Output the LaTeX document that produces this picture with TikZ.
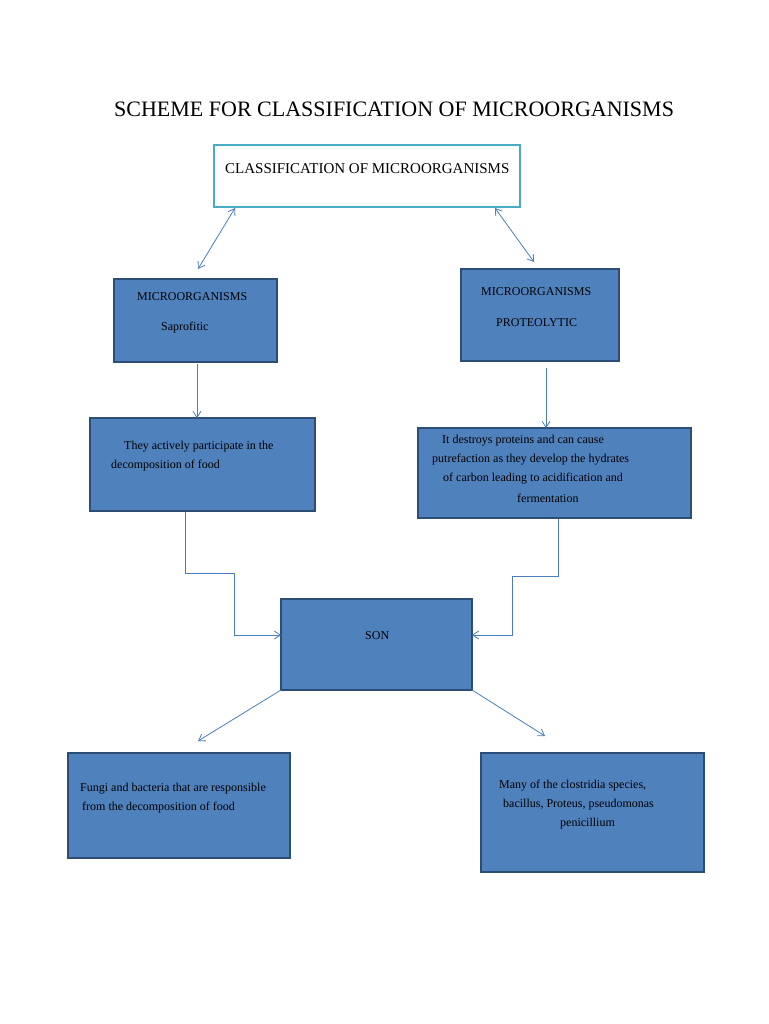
\documentclass[tikz,border=0pt]{standalone}
\usepackage{fontspec}
\setmainfont{Liberation Serif}
\usetikzlibrary{arrows.meta}
\definecolor{boxfill}{HTML}{4F81BD}
\definecolor{boxline}{HTML}{2C4D75}
\definecolor{cyanline}{HTML}{4BACC6}
\definecolor{arr}{HTML}{4A7EBB}
\begin{document}
\begin{tikzpicture}[x=1pt,y=-1pt,
  box/.style={draw=boxline,line width=1.5pt,fill=boxfill},
  txt/.style={anchor=west,inner sep=0pt,font=\fontsize{12}{14}\selectfont},
  con/.style={draw=arr,line width=0.8pt,-{Straight Barb[length=6pt,width=8pt]}},
  dcon/.style={draw=arr,line width=0.8pt,{Straight Barb[length=6pt,width=8pt]}-{Straight Barb[length=6pt,width=8pt]}}]
\useasboundingbox (0,0) rectangle (768,1024);
\node[anchor=west,inner sep=0pt,font=\fontsize{22}{26}\selectfont] (title) at (114,109) {SCHEME FOR CLASSIFICATION OF MICROORGANISMS};
\draw[draw=cyanline,line width=1.5pt,fill=white] (214,145) rectangle (520,207);
\node[txt,font=\fontsize{15}{18}\selectfont] (top) at (225,169) {CLASSIFICATION OF MICROORGANISMS};
\draw[box] (114,279) rectangle (277,362);
\node[txt] (sap1) at (137,297) {MICROORGANISMS};
\node[txt] (sap2) at (161,328) {Saprofitic};
\draw[box] (461,269) rectangle (619,361);
\node[txt] (pro1) at (481,292) {MICROORGANISMS};
\node[txt] (pro2) at (496,323) {PROTEOLYTIC};
\draw[box] (90,418) rectangle (315,511);
\node[txt] (a1) at (124,447) {They actively participate in the};
\node[txt] (a2) at (111,466) {decomposition of food};
\draw[box] (418,428) rectangle (691,518);
\node[txt] (b1) at (442,441) {It destroys proteins and can cause};
\node[txt] (b2) at (432,460) {putrefaction as they develop the hydrates};
\node[txt] (b3) at (443,479) {of carbon leading to acidification and};
\node[txt] (b4) at (517,498) {fermentation};
\draw[box] (281,599) rectangle (472,690);
\node[txt] (son) at (365,636) {SON};
\draw[box] (68,753) rectangle (290,858);
\node[txt] (c1) at (80,789) {Fungi and bacteria that are responsible};
\node[txt] (c2) at (82,808) {from the decomposition of food};
\draw[box] (481,753) rectangle (704,872);
\node[txt] (d1) at (499,786) {Many of the clostridia species,};
\node[txt] (d2) at (503,805) {bacillus, Proteus, pseudomonas};
\node[txt] (d3) at (560,824) {penicillium};
\coordinate (p1) at (235,208); \coordinate (p2) at (198,269);
\coordinate (p3) at (495,208); \coordinate (p4) at (534,262);
\coordinate (p5) at (197,364); \coordinate (p6) at (197,418);
\coordinate (p7) at (546,368); \coordinate (p8) at (546,428);
\coordinate (e1) at (185,512); \coordinate (e2) at (281,635);
\coordinate (f1) at (558,519); \coordinate (f2) at (472,635);
\coordinate (g1) at (281,690); \coordinate (g2) at (198,741);
\coordinate (h1) at (472,690); \coordinate (h2) at (545,736);
\draw[dcon] (p1) -- (p2);
\draw[dcon] (p3) -- (p4);
\draw[con] (p5) -- (p6);
\draw[con] (p7) -- (p8);
\draw[con] (e1) -- (185,573) -- (234,573) -- (234,635) -- (e2);
\draw[con] (f1) -- (558,576) -- (512,576) -- (512,635) -- (f2);
\draw[con] (g1) -- (g2);
\draw[con] (h1) -- (h2);
\end{tikzpicture}
\end{document}
